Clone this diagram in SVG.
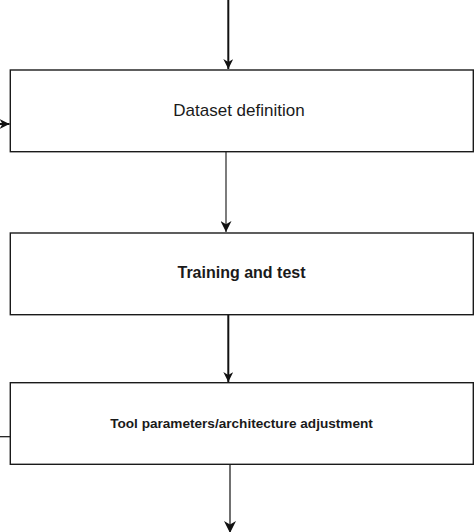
<svg xmlns="http://www.w3.org/2000/svg" width="474" height="532" viewBox="0 0 474 532">
<style>
.box{fill:#fff;stroke:#1a1a1a;stroke-width:1.4}
.lbl{font-family:"Liberation Sans",Arial,sans-serif;fill:#1a1a1a;text-anchor:middle}
.c{stroke:#111;fill:none}
</style>
<defs>
<marker id="ah" viewBox="0 0 10 10" refX="10" refY="5" markerWidth="5" markerHeight="5" markerUnits="strokeWidth" orient="auto">
<path d="M0,0 L10,5 L0,10 L3,5 Z" fill="#111"/>
</marker>
<marker id="ah1" viewBox="0 0 10 10" refX="10" refY="5" markerWidth="10" markerHeight="10" markerUnits="strokeWidth" orient="auto">
<path d="M0,0 L10,5 L0,10 L3,5 Z" fill="#111"/>
</marker>
</defs>
<rect width="474" height="532" fill="#fff"/>
<g id="connectors">
<line class="c" x1="228.3" y1="0" x2="228.3" y2="69" stroke-width="2" marker-end="url(#ah)"/>
<line class="c" x1="226" y1="152" x2="226" y2="232" stroke-width="1.1" marker-end="url(#ah1)"/>
<line class="c" x1="228.3" y1="315" x2="228.3" y2="382" stroke-width="2" marker-end="url(#ah)"/>
<line class="c" x1="230" y1="464" x2="230" y2="533" stroke-width="1.2" marker-end="url(#ah1)"/>
<line class="c" x1="0" y1="124" x2="9.5" y2="124" stroke-width="2" marker-end="url(#ah)"/>
<line class="c" x1="0" y1="436.7" x2="10" y2="436.7" stroke-width="1.2"/>
</g>
<g id="node-dataset">
<rect class="box" x="10.3" y="70" width="463" height="81.7"/>
<text class="lbl" x="239" y="116" font-size="17">Dataset definition</text>
</g>
<g id="node-training">
<rect class="box" x="10.3" y="233" width="463" height="81.7"/>
<text class="lbl" x="241.5" y="278" font-size="16" font-weight="bold">Training and test</text>
</g>
<g id="node-tool">
<rect class="box" x="10.3" y="382.7" width="463" height="81.6"/>
<text class="lbl" x="241.5" y="428" font-size="13.6" font-weight="bold">Tool parameters/architecture adjustment</text>
</g>
</svg>
